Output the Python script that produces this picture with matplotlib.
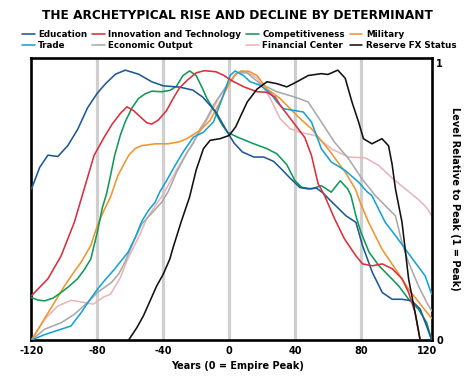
import numpy as np
import matplotlib
matplotlib.use('Agg')
import matplotlib.pyplot as plt

# values (year, level relative to peak)
education_x = [-120, -115, -110, -104, -98, -92, -86, -80, -75, -69, -63, -55, -47, -40, -30, -22, -16,
               -8, -1, 3, 8, 15, 21, 27, 32, 37, 43, 48, 53, 57, 61, 66, 71, 77, 81, 87, 93, 99, 105,
               111, 116, 120, 123]
education_y = [0.56, 0.64, 0.685, 0.68, 0.72, 0.78, 0.86, 0.915, 0.95, 0.985, 1.0, 0.985, 0.957, 0.942,
               0.937, 0.926, 0.9, 0.845, 0.77, 0.73, 0.697, 0.678, 0.678, 0.662, 0.632, 0.6, 0.565, 0.56,
               0.563, 0.545, 0.52, 0.49, 0.46, 0.436, 0.35, 0.25, 0.176, 0.151, 0.151, 0.145, 0.115,
               0.05, 0.0]

innovation_x = [-120, -110, -102, -94, -88, -82, -76, -71, -66, -62, -58, -55, -50, -47, -43, -38, -34,
                -30, -25, -20, -15, -8, -3, 1, 9, 17, 23, 28, 31, 36, 41, 46, 50, 54, 58, 64, 70, 77,
                81, 87, 93, 99, 105, 109, 113, 116]
innovation_y = [0.164, 0.227, 0.312, 0.436, 0.56, 0.684, 0.75, 0.8, 0.84, 0.864, 0.85, 0.833, 0.805,
                0.8, 0.815, 0.85, 0.895, 0.935, 0.965, 0.99, 0.998, 0.994, 0.98, 0.963, 0.938, 0.92,
                0.918, 0.9, 0.87, 0.83, 0.79, 0.75, 0.684, 0.58, 0.535, 0.45, 0.375, 0.312, 0.282,
                0.275, 0.282, 0.264, 0.227, 0.176, 0.1, 0.0]

compet_x = [-120, -116, -112, -107, -102, -97, -92, -88, -84, -80, -77, -74.5, -72, -69.5, -66, -63, -59,
            -55, -51, -47, -41, -36, -32, -28, -24, -20, -16, -13.5, -10, -7.5, -4, -1, 5, 15, 23, 29,
            35, 40, 44, 50, 56, 62, 67.5, 72, 74, 77, 80, 85, 91, 97, 103, 109, 115, 120, 123]
compet_y = [0.157, 0.148, 0.145, 0.155, 0.176, 0.2, 0.227, 0.26, 0.3, 0.4, 0.49, 0.54, 0.61, 0.684,
            0.76, 0.81, 0.86, 0.895, 0.912, 0.922, 0.92, 0.925, 0.94, 0.98, 0.997, 0.98, 0.93, 0.895,
            0.86, 0.833, 0.795, 0.77, 0.752, 0.727, 0.709, 0.69, 0.65, 0.59, 0.566, 0.56, 0.572, 0.548,
            0.59, 0.56, 0.535, 0.46, 0.4, 0.325, 0.275, 0.238, 0.2, 0.151, 0.114, 0.064, 0.0]

military_x = [-120, -115, -110, -105, -100, -95, -90, -84, -80, -76, -72, -67.5, -61, -57, -53, -45, -37,
              -30, -25.7, -17.6, -11.5, -5.5, 0.6, 4, 7, 12, 17, 23, 31, 39, 45, 50, 60, 70.5, 76.6,
              79.6, 84.7, 92.8, 101, 109, 117, 123]
military_y = [0.0, 0.05, 0.1, 0.15, 0.2, 0.245, 0.287, 0.35, 0.424, 0.48, 0.53, 0.61, 0.684, 0.71, 0.72,
              0.727, 0.727, 0.735, 0.746, 0.777, 0.814, 0.882, 0.957, 0.985, 0.996, 0.996, 0.98, 0.93,
              0.895, 0.845, 0.81, 0.783, 0.709, 0.622, 0.56, 0.51, 0.436, 0.337, 0.263, 0.188, 0.126,
              0.08]

trade_x = [-120, -112, -102, -96, -90, -85, -80, -75, -69.5, -61.4, -57, -53, -49, -45, -42, -38, -34,
           -28, -21.7, -15.6, -9.5, -3.5, 0.6, 3.6, 8.7, 12.8, 18.8, 25, 29, 33, 39, 45, 50, 56, 62,
           70.5, 78.6, 83.7, 86.7, 94.8, 101, 107, 113, 119, 123]
trade_y = [0.0, 0.02, 0.04, 0.052, 0.1, 0.145, 0.188, 0.225, 0.263, 0.325, 0.38, 0.44, 0.48, 0.51,
           0.55, 0.59, 0.634, 0.696, 0.752, 0.77, 0.808, 0.907, 0.98, 0.997, 0.98, 0.957, 0.944, 0.915,
           0.882, 0.857, 0.851, 0.845, 0.808, 0.709, 0.66, 0.628, 0.585, 0.55, 0.535, 0.436, 0.387,
           0.337, 0.287, 0.238, 0.17]

output_x = [-120, -112, -102, -94, -86, -80, -71.5, -67, -63.4, -57.3, -53, -47, -41, -37, -32, -26,
            -21.7, -17.6, -13.6, -9.5, -1.4, 4.7, 10.8, 18.8, 29, 40, 48, 56, 64, 72.5, 80.7, 88.8,
            94.8, 101, 105, 109, 115, 120, 123]
output_y = [0.0, 0.04, 0.064, 0.095, 0.139, 0.176, 0.213, 0.245, 0.287, 0.374, 0.43, 0.47, 0.51, 0.55,
            0.62, 0.69, 0.73, 0.783, 0.82, 0.87, 0.944, 0.99, 0.99, 0.95, 0.92, 0.9, 0.882, 0.808,
            0.733, 0.672, 0.597, 0.535, 0.498, 0.46, 0.36, 0.287, 0.2, 0.139, 0.108]

finance_x = [-120, -112, -104, -96, -88, -82.5, -76, -72, -66, -62, -54, -50, -44, -40, -32, -22, -14,
             -6, 0, 4, 8, 12, 17, 21, 25, 31, 37, 43, 52, 62, 72.5, 82.7, 90.8, 99, 107, 115, 120, 123]
finance_y = [0.0, 0.077, 0.126, 0.147, 0.139, 0.133, 0.16, 0.17, 0.232, 0.294, 0.393, 0.45, 0.505, 0.54,
             0.63, 0.73, 0.81, 0.9, 0.95, 0.985, 0.998, 0.99, 0.97, 0.935, 0.895, 0.82, 0.783, 0.77,
             0.758, 0.709, 0.678, 0.675, 0.647, 0.6, 0.56, 0.52, 0.49, 0.46]

reserve_x = [-61, -56, -52, -48, -44, -40, -36, -34, -29, -24, -20, -15.6, -11.5, -5.5, 0, 4, 7, 11, 17,
             23, 29, 35, 39, 43, 48, 56, 60, 66, 70.5, 74.6, 78.6, 81.6, 86.7, 92.8, 96.8, 99, 101,
             105, 109, 113, 116]
reserve_y = [0.0, 0.046, 0.09, 0.145, 0.2, 0.244, 0.3, 0.343, 0.44, 0.53, 0.63, 0.709, 0.74, 0.746,
             0.758, 0.79, 0.83, 0.882, 0.93, 0.957, 0.95, 0.938, 0.95, 0.963, 0.98, 0.987, 0.984, 1.0,
             0.97, 0.882, 0.808, 0.746, 0.727, 0.746, 0.72, 0.65, 0.56, 0.436, 0.226, 0.1, 0.0]

x_ticks = [-120, -80, -40, 0, 40, 80, 120]
grid_years = [-80, -40, 0, 40, 80]

series = [
    ('Education', education_x, education_y, '#1f5896'),
    ('Trade', trade_x, trade_y, '#15a3d6'),
    ('Innovation and Technology', innovation_x, innovation_y, '#d9303c'),
    ('Economic Output', output_x, output_y, '#a9a9a9'),
    ('Competitiveness', compet_x, compet_y, '#0f9a58'),
    ('Financial Center', finance_x, finance_y, '#e9b5ba'),
    ('Military', military_x, military_y, '#f0952c'),
    ('Reserve FX Status', reserve_x, reserve_y, '#111111'),
]
draw_order = ['Financial Center', 'Economic Output', 'Military', 'Trade', 'Competitiveness',
              'Education', 'Innovation and Technology', 'Reserve FX Status']

plt.rcParams['font.family'] = ['DejaVu Sans']
plt.rcParams['font.weight'] = 'bold'

fig = plt.figure(figsize=(4.74, 3.81), dpi=100)
ax = fig.add_axes([31 / 474, 41 / 381, 401 / 474, 282 / 381])

for g in grid_years:
    ax.axvline(g, color='#cfcfcf', lw=2.3, zorder=0)

handles = {}
for name, xs, ys, col in series:
    z = 2 + draw_order.index(name)
    line, = ax.plot(xs, ys, color=col, lw=1.15, label=name, zorder=z,
                    solid_joinstyle='round', solid_capstyle='round')
    handles[name] = line

ax.set_xlim(-120.3, 123.2)
ax.set_ylim(0, 1.045)
ax.set_xticks(x_ticks)
ax.set_xticklabels([str(t) for t in x_ticks], fontsize=7, fontweight='bold')
ax.yaxis.tick_right()
ax.set_yticks([0, 1.025])
ax.set_yticklabels(['0', '1'], fontsize=7, fontweight='bold')
ax.tick_params(length=0, pad=4)
ax.tick_params(axis='y', pad=3)
for s in ax.spines.values():
    s.set_linewidth(1.9)
    s.set_color('black')

ax.set_xlabel('Years (0 = Empire Peak)', fontsize=7, fontweight='bold')
ax.xaxis.set_label_coords(0.515, -0.075)
ax.yaxis.set_label_position('right')
ax.set_ylabel('Level Relative to Peak (1 = Peak)', fontsize=7, fontweight='bold',
              rotation=270, labelpad=12)

fig.text(0.5, 0.96, 'THE ARCHETYPICAL RISE AND DECLINE BY DETERMINANT',
         ha='center', va='center', fontsize=8.7, fontweight='bold')

order = ['Education', 'Trade', 'Innovation and Technology', 'Economic Output',
         'Competitiveness', 'Financial Center', 'Military', 'Reserve FX Status']
fig.legend([handles[n] for n in order], order, ncol=4, frameon=False,
           loc='center', bbox_to_anchor=(0.505, 0.895), fontsize=6.3,
           handlelength=1.4, handletextpad=0.4, columnspacing=0.6,
           labelspacing=0.25, borderaxespad=0, borderpad=0)

fig.savefig('out.png', dpi=100)
